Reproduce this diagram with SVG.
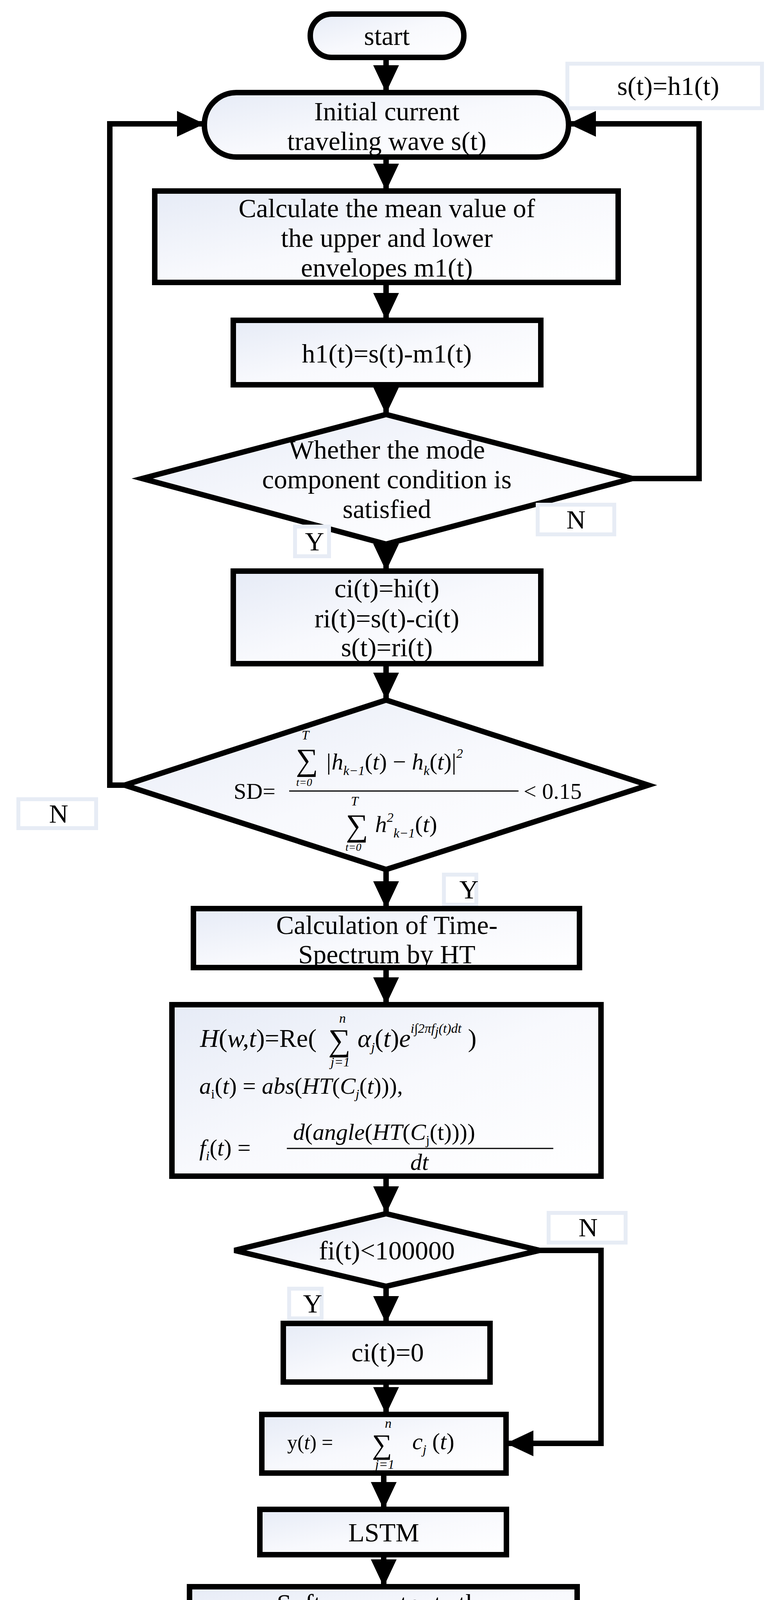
<svg xmlns="http://www.w3.org/2000/svg" width="1991" height="4255" viewBox="0 0 1991 4255">
<style>
.n{stroke:#000;stroke-width:14;fill:url(#g)}
.c{stroke:#000;stroke-width:14;fill:none}
.lb{stroke:#e7ecf5;stroke-width:10;fill:#fff}
text{font-family:"Liberation Serif","Times New Roman",serif;fill:#000}
.t{font-size:68px;text-anchor:middle}
.m{font-size:60px;font-style:italic}
.s{font-size:34px;font-style:italic}
</style>
<defs>
<linearGradient id="g" x1="0" y1="0" x2="1" y2="1"><stop offset="0" stop-color="#e6ebf6"/><stop offset="0.5" stop-color="#f8f9fd"/><stop offset="1" stop-color="#fff"/></linearGradient>
<marker id="a" markerUnits="userSpaceOnUse" markerWidth="70" markerHeight="70" viewBox="0 0 70 70" refX="70" refY="35" orient="auto"><path d="M0,2 L70,35 L0,68 z" fill="#000"/></marker>
</defs>
<rect width="1991" height="4255" fill="#fff"/>
<g id="connectors">
<line class="c" x1="988" y1="150" x2="988" y2="237" marker-end="url(#a)"/>
<line class="c" x1="988" y1="404" x2="988" y2="489" marker-end="url(#a)"/>
<line class="c" x1="988" y1="724" x2="988" y2="820" marker-end="url(#a)"/>
<line class="c" x1="988" y1="986" x2="988" y2="1061" marker-end="url(#a)"/>
<line class="c" x1="988" y1="1393" x2="988" y2="1462" marker-end="url(#a)"/>
<line class="c" x1="988" y1="1700" x2="988" y2="1792" marker-end="url(#a)"/>
<line class="c" x1="988" y1="2226" x2="988" y2="2326" marker-end="url(#a)"/>
<line class="c" x1="988" y1="2478" x2="988" y2="2572" marker-end="url(#a)"/>
<line class="c" x1="988" y1="3012" x2="988" y2="3107" marker-end="url(#a)"/>
<line class="c" x1="988" y1="3293" x2="988" y2="3388" marker-end="url(#a)"/>
<line class="c" x1="988" y1="3538" x2="988" y2="3621" marker-end="url(#a)"/>
<line class="c" x1="982" y1="3771" x2="982" y2="3864" marker-end="url(#a)"/>
<line class="c" x1="982" y1="3980" x2="982" y2="4062" marker-end="url(#a)"/>
<polyline class="c" points="1618,1225 1789,1225 1789,317 1455,317" marker-end="url(#a)"/>
<polyline class="c" points="319,2010 281,2010 281,317 523,317" marker-end="url(#a)"/>
<polyline class="c" points="1381,3201 1538,3201 1538,3695 1295,3695" marker-end="url(#a)"/>
</g>
<g id="lbl-s"><rect class="lb" x="1452" y="163" width="498" height="114"/><text class="t" x="1710" y="243">s(t)=h1(t)</text></g>
<g id="start"><rect class="n" x="794" y="36" width="393" height="111" rx="55"/><text class="t" x="990" y="115">start</text></g>
<g id="initial"><rect class="n" x="523" y="237" width="932" height="165" rx="82"/><text class="t" x="990" y="308">Initial current</text><text class="t" x="990" y="384">traveling wave s(t)</text></g>
<g id="calc"><rect class="n" x="396" y="489" width="1186" height="234"/><text class="t" x="990" y="556">Calculate the mean value of</text><text class="t" x="990" y="632">the upper and lower</text><text class="t" x="990" y="708">envelopes m1(t)</text></g>
<g id="h1"><rect class="n" x="597" y="820" width="787" height="165"/><text class="t" x="990" y="928">h1(t)=s(t)-m1(t)</text></g>
<g id="d1"><polygon class="n" points="988,1061 1618,1225 988,1393 364,1225"/><text class="t" x="990" y="1174">Whether the mode</text><text class="t" x="990" y="1250">component condition is</text><text class="t" x="990" y="1326">satisfied</text></g>
<g id="lbl-n1"><rect class="lb" x="1376" y="1292" width="196" height="76"/><text class="t" x="1474" y="1353">N</text></g>
<g id="lbl-y1"><rect class="lb" x="755" y="1348" width="87" height="76"/><text class="t" x="805" y="1409">Y</text></g>
<g id="ci"><rect class="n" x="597" y="1462" width="787" height="237"/><text class="t" x="990" y="1529">ci(t)=hi(t)</text><text class="t" x="990" y="1606">ri(t)=s(t)-ci(t)</text><text class="t" x="990" y="1680">s(t)=ri(t)</text></g>
<g id="d2"><polygon class="n" points="988,1792 1659,2010 988,2226 319,2010"/>
<text x="598" y="2045" style="font-size:58px">SD=</text>
<line x1="740" y1="2025" x2="1327" y2="2025" stroke="#000" stroke-width="3"/>
<text x="1340" y="2045" style="font-size:58px">&lt; 0.15</text>
<text x="757" y="1972" style="font-size:80px">∑</text><text class="s" x="772" y="1893">T</text><text class="s" x="758" y="2012" style="font-size:28px">t=0</text>
<text class="m" x="832" y="1970">|h<tspan class="s" dy="14">k−1</tspan><tspan dy="-14" style="font-style:normal">(</tspan>t<tspan style="font-style:normal">) − </tspan>h<tspan class="s" dy="14">k</tspan><tspan dy="-14" style="font-style:normal">(</tspan>t<tspan style="font-style:normal">)|</tspan><tspan class="s" dy="-30">2</tspan></text>
<text x="885" y="2140" style="font-size:80px">∑</text><text class="s" x="898" y="2062">T</text><text class="s" x="884" y="2178" style="font-size:28px">t=0</text>
<text class="m" x="960" y="2130">h<tspan class="s" dy="-26">2</tspan><tspan class="s" dy="40">k−1</tspan><tspan dy="-14" style="font-style:normal">(</tspan>t<tspan style="font-style:normal">)</tspan></text>
</g>
<g id="lbl-n2"><rect class="lb" x="47" y="2046" width="199" height="74"/><text class="t" x="150" y="2106">N</text></g>
<g id="lbl-y2"><rect class="lb" x="1136" y="2239" width="83" height="77"/><text class="t" x="1200" y="2300">Y</text></g>
<g id="ht"><rect class="n" x="495" y="2326" width="988" height="151"/><text class="t" x="990" y="2391">Calculation of Time-</text><text class="t" x="990" y="2466">Spectrum by HT</text></g>
<g id="formula"><rect class="n" x="440" y="2572" width="1098" height="439"/>
<text class="m" x="512" y="2680" style="font-size:66px">H<tspan style="font-style:normal">(</tspan>w,t<tspan style="font-style:normal">)=Re(</tspan></text>
<text x="840" y="2690" style="font-size:80px">∑</text><text class="s" x="868" y="2618">n</text><text class="s" x="846" y="2730">j=1</text>
<text class="m" x="915" y="2680" style="font-size:66px">α<tspan class="s" dy="12">j</tspan><tspan dy="-12" style="font-style:normal">(</tspan>t<tspan style="font-style:normal">)</tspan>e<tspan class="s" dy="-36">i∫2πf<tspan dy="8">j</tspan><tspan dy="-8">(t)dt</tspan></tspan><tspan dy="36" style="font-style:normal"> )</tspan></text>
<text class="m" x="510" y="2800">a<tspan class="s" dy="12" style="font-style:normal">i</tspan><tspan dy="-12" style="font-style:normal">(</tspan>t<tspan style="font-style:normal">) = </tspan>abs<tspan style="font-style:normal">(</tspan>HT<tspan style="font-style:normal">(</tspan>C<tspan class="s" dy="12">j</tspan><tspan dy="-12" style="font-style:normal">(</tspan>t<tspan style="font-style:normal">))),</tspan></text>
<text class="m" x="510" y="2958">f<tspan class="s" dy="12">i</tspan><tspan dy="-12" style="font-style:normal">(</tspan>t<tspan style="font-style:normal">) =</tspan></text>
<line x1="734" y1="2940" x2="1416" y2="2940" stroke="#000" stroke-width="3"/>
<text class="m" x="750" y="2918">d<tspan style="font-style:normal">(</tspan>angle<tspan style="font-style:normal">(</tspan>HT<tspan style="font-style:normal">(</tspan>C<tspan class="s" dy="12" style="font-style:normal">j</tspan><tspan dy="-12" style="font-style:normal">(t))))</tspan></text>
<text class="m" x="1050" y="2995">dt</text>
</g>
<g id="d3"><polygon class="n" points="988,3107 1381,3201 988,3293 600,3201"/><text class="t" x="990" y="3224">fi(t)&lt;100000</text></g>
<g id="lbl-n3"><rect class="lb" x="1404" y="3105" width="197" height="76"/><text class="t" x="1505" y="3165">N</text></g>
<g id="lbl-y3"><rect class="lb" x="740" y="3299" width="83" height="76"/><text class="t" x="800" y="3360">Y</text></g>
<g id="ci0"><rect class="n" x="725" y="3388" width="529" height="150"/><text class="t" x="992" y="3485">ci(t)=0</text></g>
<g id="yt"><rect class="n" x="670" y="3621" width="625" height="150"/>
<text x="735" y="3710" style="font-size:52px">y(<tspan font-style="italic">t</tspan>) = </text>
<text x="952" y="3722" style="font-size:72px">∑</text><text class="s" x="985" y="3655">n</text><text class="s" x="960" y="3760">j=1</text>
<text class="m" x="1055" y="3710">c<tspan class="s" dy="12">j</tspan><tspan dy="-12" style="font-style:normal"> (</tspan>t<tspan style="font-style:normal">)</tspan></text>
</g>
<g id="lstm"><rect class="n" x="665" y="3864" width="631" height="116"/><text class="t" x="982" y="3946">LSTM</text></g>
<g id="softmax"><rect class="n" x="485" y="4062" width="992" height="154"/><text class="t" x="982" y="4128">Softmax outputs the</text><text class="t" x="982" y="4202">test results</text></g>
</svg>
